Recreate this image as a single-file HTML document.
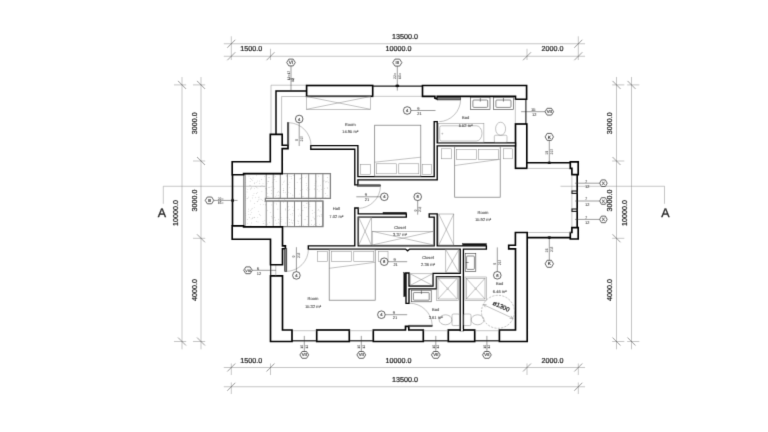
<!DOCTYPE html>
<html><head><meta charset="utf-8"><title>Floor plan</title>
<style>
html,body{margin:0;padding:0;background:#fff;}
body{width:768px;height:432px;overflow:hidden;font-family:"Liberation Sans",sans-serif;}
svg{display:block;}
text{font-family:"Liberation Sans",sans-serif;text-rendering:geometricPrecision;}
.w{fill:#fff;stroke:#000;stroke-width:1.65;stroke-linejoin:miter;}
.wl{fill:none;stroke:#000;stroke-width:1.45;stroke-linejoin:miter;}
.wi{fill:#fff;stroke:#000;stroke-width:1.35;stroke-linejoin:miter;}
.m{fill:none;stroke:#1c1c1c;stroke-width:1.1;}
.t{fill:none;stroke:#8a8a8a;stroke-width:0.5;}
.d{fill:none;stroke:#8c8c8c;stroke-width:0.5;}
.d2{fill:none;stroke:#3a3a3a;stroke-width:0.5;}
.sl{fill:none;stroke:#4a4a4a;stroke-width:0.55;}
.f{fill:none;stroke:#858585;stroke-width:0.5;}
.fb{fill:none;stroke:#737373;stroke-width:0.7;}
.ww{fill:none;stroke:#1a1a1a;stroke-width:1.25;}
.f2{fill:none;stroke:#3a3a3a;stroke-width:0.6;}
.st{fill:none;stroke:#8a8a8a;stroke-width:1.0;}
.st2{fill:none;stroke:#808080;stroke-width:1.3;}
.tg{fill:#fff;stroke:#222;stroke-width:0.7;}
.dot{fill:#111;stroke:none;}
.blk{fill:#111;stroke:#111;stroke-width:0.4;}
.bar{fill:#666;stroke:#111;stroke-width:1.2;}
.dl{fill:#666;stroke:#222;stroke-width:0.6;}
.fd{fill:#fff;stroke:#777;stroke-width:0.4;}
.dh{fill:#7a7a7a;stroke:#1a1a1a;stroke-width:0.6;}
.tx{fill:#222;stroke:#222;stroke-width:2.2;}
.txa{fill:#222;stroke:#222;stroke-width:3;}
.tt{fill:#222;stroke:#222;stroke-width:1.2;}
.tt2{fill:#333;stroke:#333;stroke-width:0.6;}
.rl{fill:#444;stroke:#444;stroke-width:0.9;}
</style></head>
<body>
<svg width="768" height="432" viewBox="0 0 768 432">
<defs><filter id="b" x="0" y="0" width="768" height="432" filterUnits="userSpaceOnUse" color-interpolation-filters="sRGB"><feConvolveMatrix order="3" kernelMatrix="0 1 0 1 6 1 0 1 0" divisor="10" edgeMode="duplicate" preserveAlpha="false"/></filter></defs>
<rect x="0" y="0" width="768" height="432" fill="#fff"/>
<g filter="url(#b)">
<path class="d" d="M223.80,43.75 L585.00,43.75"/>
<path class="d" d="M223.80,56.25 L585.00,56.25"/>
<path class="d" d="M231.30,36.30 L231.30,60.00"/>
<path class="d" d="M578.30,36.30 L578.30,60.00"/>
<path class="d" d="M270.50,48.80 L270.50,60.00"/>
<path class="d" d="M527.00,48.80 L527.00,60.00"/>
<path class="sl" d="M227.30,47.75 L235.30,39.75"/>
<path class="sl" d="M227.30,60.25 L235.30,52.25"/>
<path class="sl" d="M574.30,47.75 L582.30,39.75"/>
<path class="sl" d="M574.30,60.25 L582.30,52.25"/>
<path class="sl" d="M266.50,60.25 L274.50,52.25"/>
<path class="sl" d="M523.00,60.25 L531.00,52.25"/>
<text class="tx" transform="translate(405.00 36.60) scale(0.1)" font-size="72" text-anchor="middle" dominant-baseline="central">13500.0</text>
<text class="tx" transform="translate(398.60 48.90) scale(0.1)" font-size="72" text-anchor="middle" dominant-baseline="central">10000.0</text>
<text class="tx" transform="translate(251.30 48.90) scale(0.1)" font-size="72" text-anchor="middle" dominant-baseline="central">1500.0</text>
<text class="tx" transform="translate(552.50 48.90) scale(0.1)" font-size="72" text-anchor="middle" dominant-baseline="central">2000.0</text>
<path class="d" d="M223.80,367.50 L585.00,367.50"/>
<path class="d" d="M223.80,386.75 L585.00,386.75"/>
<path class="d" d="M231.30,363.50 L231.30,375.00"/>
<path class="d" d="M231.30,382.50 L231.30,394.00"/>
<path class="d" d="M578.30,363.50 L578.30,375.00"/>
<path class="d" d="M578.30,382.50 L578.30,394.00"/>
<path class="d" d="M270.50,363.50 L270.50,375.00"/>
<path class="d" d="M527.00,363.50 L527.00,375.00"/>
<path class="sl" d="M227.30,371.50 L235.30,363.50"/>
<path class="sl" d="M227.30,390.75 L235.30,382.75"/>
<path class="sl" d="M574.30,371.50 L582.30,363.50"/>
<path class="sl" d="M574.30,390.75 L582.30,382.75"/>
<path class="sl" d="M266.50,371.50 L274.50,363.50"/>
<path class="sl" d="M523.00,371.50 L531.00,363.50"/>
<text class="tx" transform="translate(405.00 379.80) scale(0.1)" font-size="72" text-anchor="middle" dominant-baseline="central">13500.0</text>
<text class="tx" transform="translate(398.60 360.20) scale(0.1)" font-size="72" text-anchor="middle" dominant-baseline="central">10000.0</text>
<text class="tx" transform="translate(251.30 360.20) scale(0.1)" font-size="72" text-anchor="middle" dominant-baseline="central">1500.0</text>
<text class="tx" transform="translate(552.50 360.20) scale(0.1)" font-size="72" text-anchor="middle" dominant-baseline="central">2000.0</text>
<path class="d" d="M182.00,77.00 L182.00,349.30"/>
<path class="d" d="M201.00,77.00 L201.00,349.30"/>
<path class="d" d="M174.00,84.90 L186.20,84.90"/>
<path class="sl" d="M178.00,80.90 L186.00,88.90"/>
<path class="d" d="M193.00,84.90 L205.20,84.90"/>
<path class="sl" d="M197.00,80.90 L205.00,88.90"/>
<path class="d" d="M174.00,341.50 L186.20,341.50"/>
<path class="sl" d="M178.00,337.50 L186.00,345.50"/>
<path class="d" d="M193.00,341.50 L205.20,341.50"/>
<path class="sl" d="M197.00,337.50 L205.00,345.50"/>
<path class="d" d="M193.00,161.00 L205.20,161.00"/>
<path class="sl" d="M197.00,157.00 L205.00,165.00"/>
<path class="d" d="M193.00,238.30 L205.20,238.30"/>
<path class="sl" d="M197.00,234.30 L205.00,242.30"/>
<text class="tx" transform="translate(194.50 123.30) rotate(-90) scale(0.1)" font-size="72" text-anchor="middle" dominant-baseline="central">3000.0</text>
<text class="tx" transform="translate(194.50 200.50) rotate(-90) scale(0.1)" font-size="72" text-anchor="middle" dominant-baseline="central">3000.0</text>
<text class="tx" transform="translate(194.50 290.00) rotate(-90) scale(0.1)" font-size="72" text-anchor="middle" dominant-baseline="central">4000.0</text>
<text class="tx" transform="translate(175.80 213.00) rotate(-90) scale(0.1)" font-size="72" text-anchor="middle" dominant-baseline="central">10000.0</text>
<path class="d" d="M616.50,77.00 L616.50,349.30"/>
<path class="d" d="M631.50,77.00 L631.50,349.30"/>
<path class="d" d="M612.20,84.90 L624.30,84.90"/>
<path class="sl" d="M612.50,80.90 L620.50,88.90"/>
<path class="d" d="M627.20,84.90 L639.30,84.90"/>
<path class="sl" d="M627.50,80.90 L635.50,88.90"/>
<path class="d" d="M612.20,341.50 L624.30,341.50"/>
<path class="sl" d="M612.50,337.50 L620.50,345.50"/>
<path class="d" d="M627.20,341.50 L639.30,341.50"/>
<path class="sl" d="M627.50,337.50 L635.50,345.50"/>
<path class="d" d="M612.20,161.00 L624.30,161.00"/>
<path class="sl" d="M612.50,157.00 L620.50,165.00"/>
<path class="d" d="M612.20,238.30 L624.30,238.30"/>
<path class="sl" d="M612.50,234.30 L620.50,242.30"/>
<text class="tx" transform="translate(609.60 123.30) rotate(-90) scale(0.1)" font-size="72" text-anchor="middle" dominant-baseline="central">3000.0</text>
<text class="tx" transform="translate(609.60 200.50) rotate(-90) scale(0.1)" font-size="72" text-anchor="middle" dominant-baseline="central">3000.0</text>
<text class="tx" transform="translate(609.60 290.00) rotate(-90) scale(0.1)" font-size="72" text-anchor="middle" dominant-baseline="central">4000.0</text>
<text class="tx" transform="translate(624.30 213.00) rotate(-90) scale(0.1)" font-size="72" text-anchor="middle" dominant-baseline="central">10000.0</text>
<path class="d" d="M163.30,203.75 L163.30,186.25 L265.40,186.25"/>
<path class="d" d="M664.50,203.75 L664.50,186.25 L560.50,186.25"/>
<text class="txa" transform="translate(162.00 212.60) scale(0.1)" font-size="125" text-anchor="middle" dominant-baseline="central">A</text>
<text class="txa" transform="translate(665.50 212.60) scale(0.1)" font-size="125" text-anchor="middle" dominant-baseline="central">A</text>
<g fill="#8a8a8a"><circle cx="272.7" cy="182.7" r="0.32"/><circle cx="300.2" cy="178.7" r="0.32"/><circle cx="290.5" cy="193.7" r="0.32"/><circle cx="250.4" cy="200.9" r="0.32"/><circle cx="248.6" cy="197.1" r="0.32"/><circle cx="251.4" cy="179.6" r="0.32"/><circle cx="281.2" cy="217.2" r="0.32"/><circle cx="255.9" cy="186.4" r="0.32"/><circle cx="298.2" cy="223.3" r="0.32"/><circle cx="294.0" cy="195.2" r="0.32"/><circle cx="327.5" cy="177.4" r="0.32"/><circle cx="317.6" cy="189.8" r="0.32"/><circle cx="257.6" cy="181.0" r="0.32"/><circle cx="271.4" cy="216.6" r="0.32"/><circle cx="260.7" cy="204.7" r="0.32"/><circle cx="299.2" cy="194.0" r="0.32"/><circle cx="291.5" cy="178.2" r="0.32"/><circle cx="250.5" cy="185.5" r="0.32"/><circle cx="302.7" cy="196.8" r="0.32"/><circle cx="271.9" cy="204.9" r="0.32"/><circle cx="283.6" cy="190.3" r="0.32"/><circle cx="312.2" cy="210.6" r="0.32"/><circle cx="266.0" cy="204.3" r="0.32"/><circle cx="289.6" cy="219.6" r="0.32"/><circle cx="306.8" cy="189.7" r="0.32"/><circle cx="327.8" cy="181.0" r="0.32"/><circle cx="280.6" cy="213.6" r="0.32"/><circle cx="258.3" cy="199.9" r="0.32"/><circle cx="248.8" cy="209.1" r="0.32"/><circle cx="309.7" cy="204.2" r="0.32"/><circle cx="319.0" cy="191.0" r="0.32"/><circle cx="303.9" cy="205.3" r="0.32"/><circle cx="294.2" cy="198.3" r="0.32"/><circle cx="316.1" cy="223.2" r="0.32"/><circle cx="285.3" cy="208.9" r="0.32"/><circle cx="250.6" cy="210.8" r="0.32"/><circle cx="299.9" cy="225.6" r="0.32"/><circle cx="314.5" cy="189.5" r="0.32"/><circle cx="277.9" cy="209.1" r="0.32"/><circle cx="247.4" cy="198.5" r="0.32"/><circle cx="259.6" cy="181.0" r="0.32"/><circle cx="250.5" cy="214.2" r="0.32"/><circle cx="256.4" cy="187.6" r="0.32"/><circle cx="278.3" cy="219.4" r="0.32"/><circle cx="252.3" cy="197.9" r="0.32"/><circle cx="291.7" cy="220.1" r="0.32"/><circle cx="314.3" cy="219.1" r="0.32"/><circle cx="268.9" cy="196.2" r="0.32"/><circle cx="275.6" cy="220.1" r="0.32"/><circle cx="325.9" cy="182.7" r="0.32"/><circle cx="260.3" cy="186.8" r="0.32"/><circle cx="265.1" cy="199.7" r="0.32"/><circle cx="295.0" cy="188.4" r="0.32"/><circle cx="245.8" cy="196.4" r="0.32"/><circle cx="276.5" cy="203.9" r="0.32"/><circle cx="288.8" cy="206.5" r="0.32"/><circle cx="302.3" cy="177.8" r="0.32"/><circle cx="321.1" cy="214.8" r="0.32"/><circle cx="319.0" cy="215.7" r="0.32"/><circle cx="278.5" cy="195.3" r="0.32"/><circle cx="254.2" cy="207.3" r="0.32"/><circle cx="250.7" cy="178.4" r="0.32"/><circle cx="263.0" cy="183.3" r="0.32"/><circle cx="274.1" cy="177.7" r="0.32"/><circle cx="245.5" cy="182.7" r="0.32"/><circle cx="254.0" cy="193.5" r="0.32"/><circle cx="247.6" cy="219.6" r="0.32"/><circle cx="297.1" cy="182.6" r="0.32"/><circle cx="266.7" cy="192.7" r="0.32"/><circle cx="276.1" cy="181.3" r="0.32"/><circle cx="316.8" cy="225.6" r="0.32"/><circle cx="284.6" cy="199.7" r="0.32"/><circle cx="252.7" cy="180.2" r="0.32"/><circle cx="274.3" cy="188.5" r="0.32"/><circle cx="315.1" cy="183.2" r="0.32"/><circle cx="247.4" cy="223.5" r="0.32"/><circle cx="289.9" cy="182.5" r="0.32"/><circle cx="291.1" cy="176.4" r="0.32"/><circle cx="289.9" cy="224.9" r="0.32"/><circle cx="318.0" cy="210.5" r="0.32"/><circle cx="267.4" cy="193.7" r="0.32"/><circle cx="259.5" cy="214.4" r="0.32"/><circle cx="290.2" cy="214.7" r="0.32"/><circle cx="273.2" cy="186.4" r="0.32"/><circle cx="313.7" cy="225.2" r="0.32"/><circle cx="317.1" cy="216.1" r="0.32"/><circle cx="314.2" cy="212.7" r="0.32"/><circle cx="264.5" cy="201.4" r="0.32"/><circle cx="275.4" cy="176.5" r="0.32"/><circle cx="247.8" cy="189.3" r="0.32"/><circle cx="267.3" cy="210.3" r="0.32"/><circle cx="325.8" cy="197.8" r="0.32"/><circle cx="325.7" cy="193.6" r="0.32"/><circle cx="264.0" cy="186.6" r="0.32"/><circle cx="262.0" cy="185.4" r="0.32"/><circle cx="297.9" cy="220.9" r="0.32"/><circle cx="316.1" cy="199.5" r="0.32"/><circle cx="300.4" cy="215.8" r="0.32"/><circle cx="252.6" cy="208.7" r="0.32"/><circle cx="321.9" cy="214.9" r="0.32"/><circle cx="308.5" cy="199.4" r="0.32"/><circle cx="260.5" cy="215.2" r="0.32"/><circle cx="273.4" cy="215.8" r="0.32"/><circle cx="327.1" cy="195.2" r="0.32"/><circle cx="279.2" cy="223.3" r="0.32"/><circle cx="306.4" cy="183.7" r="0.32"/><circle cx="256.2" cy="182.7" r="0.32"/><circle cx="321.5" cy="216.1" r="0.32"/><circle cx="257.8" cy="217.2" r="0.32"/><circle cx="274.9" cy="203.0" r="0.32"/><circle cx="256.5" cy="175.7" r="0.32"/><circle cx="289.7" cy="222.6" r="0.32"/><circle cx="281.9" cy="219.5" r="0.32"/><circle cx="314.9" cy="185.8" r="0.32"/><circle cx="266.7" cy="189.9" r="0.32"/><circle cx="265.7" cy="204.9" r="0.32"/><circle cx="267.3" cy="196.4" r="0.32"/><circle cx="256.5" cy="221.4" r="0.32"/><circle cx="275.2" cy="198.4" r="0.32"/><circle cx="294.5" cy="221.1" r="0.32"/><circle cx="280.8" cy="221.8" r="0.32"/><circle cx="287.6" cy="202.1" r="0.32"/><circle cx="289.5" cy="176.0" r="0.32"/><circle cx="282.5" cy="184.3" r="0.32"/><circle cx="245.8" cy="215.8" r="0.32"/><circle cx="260.0" cy="199.1" r="0.32"/><circle cx="306.4" cy="203.4" r="0.32"/><circle cx="272.9" cy="201.4" r="0.32"/><circle cx="292.2" cy="215.0" r="0.32"/><circle cx="254.4" cy="203.6" r="0.32"/><circle cx="266.4" cy="189.1" r="0.32"/><circle cx="310.4" cy="200.9" r="0.32"/><circle cx="292.7" cy="213.8" r="0.32"/><circle cx="322.1" cy="197.6" r="0.32"/><circle cx="297.0" cy="200.8" r="0.32"/><circle cx="288.5" cy="210.3" r="0.32"/><circle cx="283.5" cy="202.2" r="0.32"/><circle cx="285.7" cy="223.0" r="0.32"/><circle cx="304.2" cy="219.7" r="0.32"/><circle cx="324.6" cy="188.2" r="0.32"/><circle cx="292.5" cy="223.1" r="0.32"/><circle cx="316.1" cy="182.0" r="0.32"/><circle cx="255.7" cy="197.5" r="0.32"/><circle cx="251.6" cy="187.3" r="0.32"/><circle cx="251.6" cy="209.1" r="0.32"/><circle cx="311.4" cy="220.7" r="0.32"/><circle cx="258.5" cy="211.5" r="0.32"/><circle cx="301.0" cy="182.3" r="0.32"/><circle cx="319.7" cy="224.3" r="0.32"/><circle cx="263.9" cy="223.6" r="0.32"/><circle cx="279.0" cy="199.9" r="0.32"/><circle cx="259.1" cy="197.0" r="0.32"/><circle cx="288.8" cy="192.3" r="0.32"/><circle cx="261.9" cy="191.2" r="0.32"/><circle cx="306.2" cy="176.0" r="0.32"/><circle cx="292.0" cy="197.5" r="0.32"/><circle cx="247.0" cy="191.9" r="0.32"/><circle cx="297.9" cy="201.1" r="0.32"/><circle cx="250.9" cy="225.2" r="0.32"/><circle cx="311.7" cy="224.6" r="0.32"/><circle cx="254.3" cy="188.5" r="0.32"/><circle cx="248.8" cy="214.7" r="0.32"/><circle cx="268.2" cy="181.6" r="0.32"/><circle cx="281.0" cy="221.5" r="0.32"/><circle cx="314.3" cy="188.2" r="0.32"/><circle cx="258.0" cy="221.9" r="0.32"/><circle cx="293.4" cy="210.7" r="0.32"/><circle cx="253.0" cy="177.9" r="0.32"/><circle cx="303.3" cy="196.7" r="0.32"/><circle cx="251.6" cy="222.9" r="0.32"/><circle cx="298.8" cy="215.9" r="0.32"/><circle cx="252.5" cy="218.7" r="0.32"/><circle cx="251.1" cy="219.0" r="0.32"/><circle cx="283.6" cy="192.3" r="0.32"/><circle cx="292.0" cy="222.3" r="0.32"/><circle cx="268.0" cy="181.6" r="0.32"/><circle cx="289.8" cy="187.2" r="0.32"/><circle cx="254.7" cy="183.2" r="0.32"/><circle cx="249.7" cy="185.3" r="0.32"/><circle cx="271.7" cy="190.6" r="0.32"/><circle cx="309.3" cy="189.8" r="0.32"/><circle cx="287.5" cy="184.1" r="0.32"/><circle cx="274.6" cy="175.9" r="0.32"/><circle cx="266.5" cy="175.8" r="0.32"/><circle cx="307.1" cy="203.1" r="0.32"/><circle cx="261.4" cy="199.2" r="0.32"/><circle cx="324.0" cy="180.4" r="0.32"/><circle cx="314.3" cy="197.0" r="0.32"/><circle cx="287.1" cy="217.6" r="0.32"/><circle cx="278.5" cy="200.8" r="0.32"/><circle cx="303.3" cy="225.1" r="0.32"/><circle cx="274.3" cy="217.4" r="0.32"/><circle cx="304.9" cy="207.4" r="0.32"/><circle cx="279.5" cy="192.7" r="0.32"/><circle cx="250.1" cy="181.6" r="0.32"/><circle cx="251.4" cy="212.8" r="0.32"/><circle cx="267.0" cy="183.3" r="0.32"/><circle cx="252.6" cy="217.9" r="0.32"/><circle cx="318.6" cy="209.2" r="0.32"/><circle cx="269.2" cy="187.4" r="0.32"/><circle cx="270.1" cy="198.4" r="0.32"/><circle cx="258.7" cy="197.7" r="0.32"/><circle cx="267.6" cy="224.1" r="0.32"/><circle cx="266.0" cy="224.2" r="0.32"/><circle cx="271.5" cy="193.2" r="0.32"/><circle cx="245.6" cy="194.5" r="0.32"/><circle cx="285.4" cy="200.6" r="0.32"/><circle cx="262.4" cy="200.7" r="0.32"/><circle cx="245.9" cy="188.5" r="0.32"/><circle cx="253.0" cy="195.4" r="0.32"/><circle cx="249.0" cy="176.1" r="0.32"/><circle cx="271.1" cy="186.9" r="0.32"/><circle cx="294.7" cy="202.0" r="0.32"/><circle cx="308.5" cy="208.5" r="0.32"/><circle cx="305.6" cy="219.8" r="0.32"/><circle cx="278.2" cy="191.6" r="0.32"/><circle cx="328.2" cy="182.6" r="0.32"/><circle cx="306.3" cy="207.8" r="0.32"/><circle cx="249.2" cy="217.6" r="0.32"/><circle cx="320.4" cy="207.0" r="0.32"/><circle cx="307.1" cy="216.4" r="0.32"/><circle cx="257.2" cy="201.7" r="0.32"/><circle cx="287.9" cy="217.6" r="0.32"/><circle cx="313.1" cy="217.1" r="0.32"/><circle cx="294.6" cy="220.5" r="0.32"/><circle cx="302.9" cy="210.4" r="0.32"/><circle cx="264.8" cy="176.6" r="0.32"/><circle cx="256.7" cy="193.4" r="0.32"/><circle cx="254.3" cy="217.6" r="0.32"/><circle cx="292.4" cy="207.0" r="0.32"/><circle cx="298.1" cy="209.7" r="0.32"/><circle cx="286.6" cy="175.2" r="0.32"/><circle cx="312.5" cy="213.2" r="0.32"/><circle cx="287.7" cy="202.3" r="0.32"/><circle cx="300.9" cy="178.4" r="0.32"/><circle cx="307.4" cy="187.9" r="0.32"/><circle cx="251.8" cy="188.5" r="0.32"/><circle cx="306.8" cy="185.5" r="0.32"/><circle cx="307.6" cy="224.8" r="0.32"/><circle cx="287.0" cy="194.5" r="0.32"/><circle cx="285.7" cy="209.9" r="0.32"/><circle cx="309.9" cy="206.5" r="0.32"/><circle cx="299.5" cy="179.0" r="0.32"/><circle cx="257.9" cy="188.0" r="0.32"/><circle cx="307.9" cy="190.5" r="0.32"/><circle cx="293.2" cy="175.6" r="0.32"/><circle cx="250.6" cy="188.7" r="0.32"/><circle cx="301.9" cy="210.3" r="0.32"/><circle cx="302.3" cy="189.8" r="0.32"/><circle cx="288.9" cy="198.7" r="0.32"/><circle cx="284.7" cy="181.0" r="0.32"/><circle cx="320.6" cy="185.2" r="0.32"/><circle cx="247.0" cy="198.4" r="0.32"/><circle cx="314.4" cy="224.4" r="0.32"/><circle cx="283.3" cy="188.7" r="0.32"/><circle cx="263.1" cy="223.2" r="0.32"/><circle cx="263.2" cy="204.7" r="0.32"/><circle cx="257.4" cy="201.7" r="0.32"/><circle cx="325.5" cy="181.8" r="0.32"/><circle cx="314.4" cy="200.9" r="0.32"/><circle cx="320.0" cy="210.9" r="0.32"/><circle cx="264.9" cy="220.8" r="0.32"/><circle cx="286.3" cy="176.3" r="0.32"/><circle cx="245.8" cy="200.1" r="0.32"/><circle cx="283.4" cy="190.4" r="0.32"/><circle cx="257.3" cy="192.5" r="0.32"/><circle cx="272.1" cy="217.9" r="0.32"/><circle cx="245.6" cy="213.3" r="0.32"/><circle cx="316.0" cy="181.1" r="0.32"/><circle cx="321.2" cy="189.8" r="0.32"/><circle cx="276.8" cy="195.0" r="0.32"/><circle cx="275.8" cy="196.8" r="0.32"/><circle cx="268.6" cy="177.5" r="0.32"/><circle cx="254.0" cy="217.6" r="0.32"/><circle cx="269.5" cy="222.7" r="0.32"/><circle cx="266.4" cy="188.6" r="0.32"/><circle cx="288.4" cy="184.7" r="0.32"/><circle cx="276.9" cy="223.8" r="0.32"/><circle cx="319.8" cy="216.4" r="0.32"/><circle cx="298.5" cy="221.6" r="0.32"/><circle cx="305.9" cy="177.5" r="0.32"/><circle cx="307.0" cy="198.0" r="0.32"/><circle cx="308.7" cy="207.9" r="0.32"/><circle cx="269.5" cy="177.5" r="0.32"/><circle cx="323.3" cy="181.5" r="0.32"/><circle cx="285.2" cy="192.5" r="0.32"/><circle cx="270.5" cy="212.7" r="0.32"/><circle cx="327.5" cy="188.3" r="0.32"/><circle cx="300.6" cy="190.3" r="0.32"/><circle cx="292.3" cy="195.1" r="0.32"/><circle cx="259.6" cy="183.2" r="0.32"/><circle cx="263.0" cy="221.2" r="0.32"/><circle cx="287.3" cy="186.2" r="0.32"/><circle cx="321.6" cy="225.8" r="0.32"/><circle cx="283.3" cy="182.1" r="0.32"/><circle cx="261.7" cy="179.6" r="0.32"/><circle cx="274.2" cy="179.6" r="0.32"/><circle cx="265.6" cy="188.2" r="0.32"/><circle cx="293.3" cy="220.2" r="0.32"/><circle cx="308.5" cy="196.1" r="0.32"/><circle cx="280.3" cy="201.7" r="0.32"/><circle cx="277.2" cy="192.2" r="0.32"/><circle cx="250.7" cy="189.2" r="0.32"/><circle cx="326.8" cy="181.4" r="0.32"/><circle cx="287.8" cy="207.1" r="0.32"/><circle cx="318.0" cy="186.0" r="0.32"/><circle cx="268.3" cy="187.7" r="0.32"/><circle cx="279.1" cy="197.7" r="0.32"/><circle cx="318.8" cy="176.1" r="0.32"/><circle cx="248.2" cy="211.2" r="0.32"/><circle cx="320.7" cy="199.1" r="0.32"/><circle cx="294.8" cy="175.0" r="0.32"/><circle cx="278.4" cy="222.3" r="0.32"/><circle cx="314.8" cy="218.6" r="0.32"/><circle cx="327.2" cy="187.7" r="0.32"/><circle cx="254.7" cy="182.9" r="0.32"/><circle cx="289.4" cy="209.8" r="0.32"/><circle cx="299.9" cy="214.0" r="0.32"/></g>
<path class="st" d="M266.20,174.00 L266.20,198.30"/>
<path class="st" d="M266.20,201.00 L266.20,226.60"/>
<path class="st" d="M273.20,174.00 L273.20,198.30"/>
<path class="st" d="M273.20,201.00 L273.20,226.60"/>
<path class="st" d="M280.30,174.00 L280.30,198.30"/>
<path class="st" d="M280.30,201.00 L280.30,226.60"/>
<path class="st" d="M287.40,174.00 L287.40,198.30"/>
<path class="st" d="M287.40,201.00 L287.40,226.60"/>
<path class="st" d="M294.50,174.00 L294.50,198.30"/>
<path class="st" d="M294.50,201.00 L294.50,226.60"/>
<path class="st" d="M301.60,174.00 L301.60,198.30"/>
<path class="st" d="M301.60,201.00 L301.60,226.60"/>
<path class="st" d="M308.70,174.00 L308.70,198.30"/>
<path class="st" d="M308.70,201.00 L308.70,226.60"/>
<path class="st" d="M315.80,174.00 L315.80,198.30"/>
<path class="st" d="M315.80,201.00 L315.80,226.60"/>
<path class="st" d="M322.90,174.00 L322.90,198.30"/>
<path class="st" d="M322.90,201.00 L322.90,226.60"/>
<path class="st2" d="M243.80,173.60 L330.40,173.60 L330.40,198.30 L265.40,198.30 L265.40,201.00 L322.90,201.00 L322.90,226.60 L243.80,226.60 Z"/>
<path class="st" d="M245.20,174.00 L245.20,226.40"/>
<path class="t" d="M306.50,85.20 L271.00,85.20 L271.00,134.30"/>
<path class="t" d="M306.50,96.50 L281.60,96.50 L281.60,134.30"/>
<path class="wl" d="M306.50,90.90 L276.00,90.90 L276.00,134.30"/>
<rect class="w" x="306.60" y="85.50" width="66.10" height="10.80"/>
<path class="m" d="M372.70,86.10 L422.50,86.10"/>
<path class="t" d="M372.70,96.30 L422.50,96.30"/>
<path class="w" d="M422.50,85.50 L526.60,85.50 L526.60,99.20 L515.50,99.20 L515.50,96.30 L437.20,96.30 L437.20,99.00 L434.90,98.20 L434.90,96.30 L422.50,96.30 Z"/>
<path class="t" d="M515.30,99.20 L515.30,124.00"/>
<path class="m" d="M525.90,99.20 L525.90,124.00"/>
<rect class="w" x="515.50" y="124.00" width="11.30" height="44.30"/>
<path class="w" d="M526.80,162.70 L570.30,162.70"/>
<path class="t" d="M526.80,168.40 L570.30,168.40"/>
<path class="w" d="M570.30,161.90 L578.20,161.90 L578.20,174.60 L571.90,174.60 L571.90,168.30 L570.30,168.30 Z"/>
<path class="w" d="M577.20,174.60 L577.20,227.60"/>
<path class="t" d="M571.90,174.60 L571.90,227.60"/>
<rect class="m" x="572.00" y="191.00" width="5.40" height="2.40"/>
<rect class="m" x="572.00" y="209.00" width="5.40" height="2.40"/>
<path class="w" d="M570.30,239.00 L578.20,239.00 L578.20,227.60 L571.90,227.60 L571.90,232.50 L570.30,232.50 Z"/>
<path class="t" d="M527.20,232.50 L571.00,232.50"/>
<path class="w" d="M527.20,237.60 L571.00,237.60"/>
<path class="w" d="M515.40,232.50 L527.20,232.50 L527.20,341.50 L499.40,341.50 L499.40,330.00 L515.50,330.00 L515.50,248.90 L508.70,248.90 L508.70,245.20 L515.40,245.20 Z"/>
<rect class="w" x="316.70" y="330.00" width="32.60" height="11.50"/>
<path class="w" d="M373.30,330.00 L405.50,330.00 L405.50,326.30 L408.80,326.30 L408.80,330.00 L423.30,330.00 L423.30,341.50 L373.30,341.50 Z"/>
<rect class="w" x="448.30" y="330.00" width="26.40" height="11.50"/>
<path class="t" d="M292.00,330.70 L316.70,330.70"/>
<path class="ww" d="M292.00,340.80 L316.70,340.80"/>
<path class="t" d="M349.30,330.70 L373.30,330.70"/>
<path class="ww" d="M349.30,340.80 L373.30,340.80"/>
<path class="t" d="M423.30,330.70 L448.30,330.70"/>
<path class="ww" d="M423.30,340.80 L448.30,340.80"/>
<path class="t" d="M474.70,330.70 L499.40,330.70"/>
<path class="ww" d="M474.70,340.80 L499.40,340.80"/>
<path class="w" d="M270.50,275.80 L282.50,275.80 L282.50,330.00 L292.00,330.00 L292.00,341.50 L270.50,341.50 Z"/>
<path class="m" d="M270.70,264.70 L270.70,275.80"/>
<path class="t" d="M275.80,264.70 L275.80,275.80"/>
<path class="w" d="M232.20,225.80 L243.60,225.80 L243.60,226.80 L282.50,226.80 L282.50,245.80 L285.40,245.80 L285.40,248.70 L282.50,248.70 L282.50,264.70 L270.50,264.70 L270.50,239.20 L232.20,239.20 Z"/>
<path class="w" d="M270.30,134.30 L282.20,134.30 L282.20,145.20 L288.00,145.20 L288.00,148.60 L282.20,148.60 L282.20,173.60 L243.60,173.60 L243.60,174.70 L232.20,174.70 L232.20,161.70 L270.30,161.70 Z"/>
<path class="w" d="M232.50,174.70 L232.50,225.80"/>
<path class="wi" d="M310.80,145.60 L357.90,145.60 L357.90,176.60 L434.20,176.60 L434.20,121.60 L437.20,121.60 L437.20,142.80 L515.50,142.80 L515.50,145.90 L437.20,145.90 L437.20,179.80 L357.90,179.80 L357.90,184.80 L354.80,184.80 L354.80,149.20 L310.80,149.20 Z"/>
<path class="wi" d="M308.30,245.85 L354.80,245.85 L354.80,208.00 L358.20,208.00 L358.20,213.90 L406.30,213.90 L406.30,217.10 L358.20,217.10 L358.20,245.85 L434.20,245.85 L434.20,217.10 L429.20,217.10 L429.20,213.90 L437.20,213.90 L437.20,245.85 L486.40,245.85 L486.40,249.10 L463.40,249.10 L463.40,330.60 L460.20,330.60 L460.20,276.60 L436.40,276.60 L436.40,288.80 L409.00,288.80 L409.00,303.40 L406.00,303.40 L406.00,273.00 L409.00,273.00 L409.00,286.00 L433.00,286.00 L433.00,273.30 L460.20,273.30 L460.20,249.10 L409.70,249.10 L407.60,250.80 L405.50,249.10 L308.30,249.10 Z"/>
<rect x="460.95" y="329" width="1.75" height="2" fill="#fff"/>
<rect class="blk" x="383.00" y="212.30" width="23.30" height="1.60"/>
<rect class="blk" x="462.60" y="243.60" width="23.80" height="2.00"/>
<rect class="blk" x="403.80" y="272.80" width="2.00" height="23.70"/>
<rect class="dl" x="287.40" y="122.70" width="1.40" height="22.50"/>
<path class="f" d="M288.80,122.70 A22.8,22.8 0 0 1 311.00,145.60"/>
<rect class="dh" x="437.20" y="97.60" width="23.40" height="2.30"/>
<path class="f" d="M460.60,99.90 A22.5,22.5 0 0 1 439.20,121.70"/>
<rect class="dl" x="357.20" y="184.80" width="23.30" height="1.40"/>
<path class="f" d="M380.50,186.20 A22.8,22.8 0 0 1 358.20,208.40"/>
<rect class="dh" x="284.70" y="248.70" width="2.10" height="22.70"/>
<path class="f" d="M286.80,271.40 A22.4,22.4 0 0 0 308.40,249.30"/>
<rect class="dl" x="408.80" y="325.20" width="23.40" height="1.40"/>
<path class="f" d="M432.20,325.20 A22.8,22.8 0 0 0 409.50,303.20"/>
<rect class="f" x="306.50" y="96.50" width="64.00" height="12.80"/>
<path class="f" d="M306.50,96.50 L370.50,109.30 M370.50,96.50 L306.50,109.30"/>
<rect class="fb" x="374.70" y="125.20" width="46.10" height="51.00"/>
<rect class="f" x="376.30" y="163.80" width="20.00" height="10.00"/>
<rect class="f" x="398.80" y="163.80" width="20.00" height="10.00"/>
<path class="f" d="M374.70,162.20 L420.80,157.20"/>
<rect class="f" x="360.50" y="164.70" width="10.00" height="10.00"/>
<rect class="f" x="422.20" y="164.70" width="9.10" height="10.00"/>
<rect class="fb" x="454.70" y="146.30" width="45.50" height="50.90"/>
<rect class="f" x="456.30" y="149.70" width="20.00" height="9.60"/>
<rect class="f" x="478.50" y="149.70" width="20.00" height="9.60"/>
<path class="f" d="M454.70,165.50 L500.20,159.30"/>
<rect class="f" x="441.30" y="148.80" width="10.00" height="10.00"/>
<rect class="f" x="503.50" y="148.80" width="8.80" height="10.00"/>
<rect class="fb" x="329.20" y="249.70" width="46.00" height="50.50"/>
<rect class="f" x="331.30" y="251.50" width="20.00" height="10.00"/>
<rect class="f" x="353.80" y="251.50" width="20.00" height="10.00"/>
<path class="f" d="M329.20,268.30 L375.20,262.30"/>
<rect class="f" x="317.50" y="251.30" width="10.00" height="10.00"/>
<rect class="f" x="378.30" y="251.30" width="9.70" height="10.00"/>
<rect class="f" x="358.80" y="217.50" width="12.50" height="27.50"/>
<path class="f" d="M358.80,217.50 L371.30,245.00 M371.30,217.50 L358.80,245.00"/>
<rect class="f" x="372.20" y="231.30" width="61.60" height="13.70"/>
<path class="f" d="M372.20,231.30 L433.80,245.00 M433.80,231.30 L372.20,245.00"/>
<rect class="f" x="438.80" y="214.00" width="15.00" height="31.00"/>
<path class="f" d="M438.80,214.00 L453.80,245.00 M453.80,214.00 L438.80,245.00"/>
<rect class="f" x="445.80" y="249.70" width="13.00" height="22.60"/>
<path class="f" d="M445.80,249.70 L458.80,272.30 M458.80,249.70 L445.80,272.30"/>
<rect class="f" x="410.20" y="273.80" width="22.20" height="11.60"/>
<path class="f" d="M410.20,273.80 L432.40,285.40 M432.40,273.80 L410.20,285.40"/>
<rect class="f" x="436.70" y="277.00" width="21.80" height="23.30"/>
<rect class="f" x="438.00" y="278.30" width="19.20" height="20.70"/>
<path class="f" d="M438.00,278.30 L457.20,299.00 M457.20,278.30 L438.00,299.00"/>
<circle class="fd" cx="447.60" cy="288.65" r="0.7"/>
<rect class="f" x="465.00" y="277.00" width="21.30" height="23.30"/>
<rect class="f" x="466.30" y="278.30" width="18.70" height="20.70"/>
<path class="f" d="M466.30,278.30 L485.00,299.00 M485.00,278.30 L466.30,299.00"/>
<circle class="fd" cx="475.65" cy="288.65" r="0.7"/>
<rect class="f2" x="470.60" y="97.20" width="19.40" height="12.20"/>
<rect class="f2" x="472.90" y="100.00" width="14.80" height="7.40" rx="1"/>
<path class="f2" d="M480.30,98.00 L480.30,101.60"/>
<rect class="f2" x="493.60" y="97.20" width="19.70" height="12.20"/>
<rect class="f2" x="495.90" y="100.00" width="15.10" height="7.40" rx="1"/>
<path class="f2" d="M503.45,98.00 L503.45,101.60"/>
<rect class="f" x="438.60" y="123.30" width="45.30" height="19.00"/>
<path class="f" d="M441.5,125.8 H476.5 A5.5,7.6 0 0 1 476.5,141 H441.5 A1.8,1.8 0 0 1 439.7,139.2 V127.6 A1.8,1.8 0 0 1 441.5,125.8 Z"/>
<circle class="f" cx="442.30" cy="133.70" r="0.5"/>
<ellipse class="f" cx="500.6" cy="128.8" rx="5" ry="6.6"/>
<rect class="f" x="494.30" y="135.20" width="12.70" height="7.40" rx="1.5"/>
<rect class="f2" x="465.20" y="253.60" width="10.60" height="17.80"/>
<rect class="f2" x="466.60" y="256.00" width="7.80" height="13.40" rx="1"/>
<path class="f2" d="M465.80,262.50 L468.60,262.50"/>
<rect class="f2" x="411.40" y="290.20" width="19.80" height="11.60"/>
<rect class="f2" x="413.40" y="292.60" width="15.80" height="7.60" rx="0.6"/>
<path class="f2" d="M421.40,290.40 L421.40,294.00"/>
<ellipse class="f" cx="445.5" cy="319.8" rx="6.4" ry="5"/>
<rect class="f" x="452.00" y="314.00" width="7.60" height="11.60" rx="1.5"/>
<ellipse class="f" cx="477.6" cy="319.8" rx="6.4" ry="5"/>
<rect class="f" x="463.40" y="314.00" width="7.60" height="11.60" rx="1.5"/>
<circle class="f" cx="498" cy="311.8" r="16.5" stroke-dasharray="2.2 1.2"/>
<path class="f" d="M483.30,304.60 L513.00,318.40"/>
<path class="f" d="M486.6,304.6 L483.3,304.6 L485.4,307.2 M509.6,318.5 L513,318.4 L511,315.8"/>
<text class="tx" transform="translate(501.20 306.30) rotate(25) scale(0.1)" font-size="63" text-anchor="middle" dominant-baseline="central">ø1300</text>
<circle class="tg" cx="299.20" cy="119.00" r="3.8"/>
<text class="tt" transform="translate(299.20 119.10) scale(0.1)" font-size="42" text-anchor="middle" dominant-baseline="central">4</text>
<path class="d2" d="M299.20,122.80 L299.20,146.00"/>
<text class="tt2" transform="translate(296.90 140.00) rotate(-90) scale(0.1)" font-size="36" text-anchor="middle" dominant-baseline="central">9</text>
<text class="tt2" transform="translate(301.60 139.60) rotate(-90) scale(0.1)" font-size="36" text-anchor="middle" dominant-baseline="central">21</text>
<path class="d2" d="M299.80,137.00 L302.80,137.00"/>
<circle class="tg" cx="407.20" cy="110.50" r="3.8"/>
<text class="tt" transform="translate(407.20 110.60) scale(0.1)" font-size="42" text-anchor="middle" dominant-baseline="central">4</text>
<path class="d2" d="M411.00,110.50 L435.50,110.50"/>
<text class="tt2" transform="translate(418.40 108.50) scale(0.1)" font-size="40" text-anchor="middle" dominant-baseline="central">9</text>
<text class="tt2" transform="translate(419.40 113.70) scale(0.1)" font-size="40" text-anchor="middle" dominant-baseline="central">21</text>
<circle class="tg" cx="384.30" cy="196.80" r="3.8"/>
<text class="tt" transform="translate(384.30 196.90) scale(0.1)" font-size="42" text-anchor="middle" dominant-baseline="central">4</text>
<path class="d2" d="M356.30,196.80 L380.50,196.80"/>
<text class="tt2" transform="translate(365.90 194.80) scale(0.1)" font-size="40" text-anchor="middle" dominant-baseline="central">9</text>
<text class="tt2" transform="translate(366.90 200.00) scale(0.1)" font-size="40" text-anchor="middle" dominant-baseline="central">21</text>
<circle class="tg" cx="417.70" cy="196.80" r="3.8"/>
<text class="tt" transform="translate(417.70 196.90) scale(0.1)" font-size="42" text-anchor="middle" dominant-baseline="central">6</text>
<path class="d2" d="M417.70,200.60 L417.70,214.70"/>
<text class="tt2" transform="translate(415.40 210.40) rotate(-90) scale(0.1)" font-size="36" text-anchor="middle" dominant-baseline="central">9</text>
<text class="tt2" transform="translate(420.10 210.00) rotate(-90) scale(0.1)" font-size="36" text-anchor="middle" dominant-baseline="central">21</text>
<path class="d2" d="M418.30,207.40 L421.30,207.40"/>
<circle class="tg" cx="296.40" cy="275.40" r="3.8"/>
<text class="tt" transform="translate(296.40 275.50) scale(0.1)" font-size="42" text-anchor="middle" dominant-baseline="central">4</text>
<path class="d2" d="M296.40,271.60 L296.40,247.20"/>
<text class="tt2" transform="translate(294.10 256.40) rotate(-90) scale(0.1)" font-size="36" text-anchor="middle" dominant-baseline="central">9</text>
<text class="tt2" transform="translate(298.80 256.00) rotate(-90) scale(0.1)" font-size="36" text-anchor="middle" dominant-baseline="central">21</text>
<path class="d2" d="M297.00,253.40 L300.00,253.40"/>
<circle class="tg" cx="384.20" cy="261.70" r="3.8"/>
<text class="tt" transform="translate(384.20 261.80) scale(0.1)" font-size="42" text-anchor="middle" dominant-baseline="central">6</text>
<path class="d2" d="M388.00,261.70 L407.20,261.70"/>
<text class="tt2" transform="translate(394.60 259.70) scale(0.1)" font-size="40" text-anchor="middle" dominant-baseline="central">9</text>
<text class="tt2" transform="translate(395.60 264.90) scale(0.1)" font-size="40" text-anchor="middle" dominant-baseline="central">21</text>
<circle class="tg" cx="381.40" cy="314.70" r="3.8"/>
<text class="tt" transform="translate(381.40 314.80) scale(0.1)" font-size="42" text-anchor="middle" dominant-baseline="central">4</text>
<path class="d2" d="M385.20,314.70 L407.20,314.70"/>
<text class="tt2" transform="translate(393.90 312.70) scale(0.1)" font-size="40" text-anchor="middle" dominant-baseline="central">9</text>
<text class="tt2" transform="translate(394.90 317.90) scale(0.1)" font-size="40" text-anchor="middle" dominant-baseline="central">21</text>
<circle class="tg" cx="497.30" cy="275.30" r="3.8"/>
<text class="tt" transform="translate(497.30 275.40) scale(0.1)" font-size="42" text-anchor="middle" dominant-baseline="central">6</text>
<path class="d2" d="M497.30,271.50 L497.30,247.40"/>
<text class="tt2" transform="translate(495.00 263.70) rotate(-90) scale(0.1)" font-size="36" text-anchor="middle" dominant-baseline="central">9</text>
<text class="tt2" transform="translate(499.70 263.30) rotate(-90) scale(0.1)" font-size="36" text-anchor="middle" dominant-baseline="central">21</text>
<path class="d2" d="M497.90,260.70 L500.90,260.70"/>
<path class="tg" d="M286.70,62.50 L288.85,59.10 L293.15,59.10 L295.30,62.50 L293.15,65.90 L288.85,65.90 Z"/>
<text class="tt" transform="translate(291.00 62.60) scale(0.1)" font-size="46" text-anchor="middle" dominant-baseline="central">VI</text>
<path class="d2" d="M291.00,66.00 L291.00,90.60"/>
<path class="d2" d="M289.40,78.80 L294.40,78.80"/>
<text class="tt2" transform="translate(288.70 75.60) rotate(-90) scale(0.1)" font-size="34" text-anchor="middle" dominant-baseline="central">12=17</text>
<text class="tt2" transform="translate(293.40 80.20) rotate(-90) scale(0.1)" font-size="34" text-anchor="middle" dominant-baseline="central">12</text>
<path class="tg" d="M392.70,62.60 L395.00,59.10 L399.60,59.10 L401.90,62.60 L399.60,66.10 L395.00,66.10 Z"/>
<text class="tt" transform="translate(397.30 62.70) scale(0.1)" font-size="43" text-anchor="middle" dominant-baseline="central">III</text>
<path class="d2" d="M397.30,66.20 L397.30,90.60"/>
<ellipse class="dot" cx="397.3" cy="85.9" rx="2" ry="1.3"/>
<text class="tt2" transform="translate(395.30 76.00) rotate(-90) scale(0.1)" font-size="35" text-anchor="middle" dominant-baseline="central">22=</text>
<text class="tt2" transform="translate(399.50 76.00) rotate(-90) scale(0.1)" font-size="35" text-anchor="middle" dominant-baseline="central">15=</text>
<path class="tg" d="M545.00,111.70 L547.15,108.30 L551.45,108.30 L553.60,111.70 L551.45,115.10 L547.15,115.10 Z"/>
<text class="tt" transform="translate(549.30 111.80) scale(0.1)" font-size="43" text-anchor="middle" dominant-baseline="central">VII</text>
<path class="d2" d="M521.10,111.70 L545.00,111.70"/>
<text class="tt2" transform="translate(533.20 109.70) scale(0.1)" font-size="40" text-anchor="middle" dominant-baseline="central">15</text>
<text class="tt2" transform="translate(534.20 114.90) scale(0.1)" font-size="40" text-anchor="middle" dominant-baseline="central">12</text>
<path class="tg" d="M545.10,136.90 L547.20,133.40 L551.40,133.40 L553.50,136.90 L551.40,140.40 L547.20,140.40 Z"/>
<text class="tt" transform="translate(549.30 137.00) scale(0.1)" font-size="48" text-anchor="middle" dominant-baseline="central">K</text>
<path class="d2" d="M549.30,140.50 L549.30,163.00"/>
<ellipse class="dot" cx="549.3" cy="162.8" rx="1.9" ry="1.3"/>
<text class="tt2" transform="translate(547.00 152.80) rotate(-90) scale(0.1)" font-size="36" text-anchor="middle" dominant-baseline="central">15</text>
<text class="tt2" transform="translate(551.70 152.40) rotate(-90) scale(0.1)" font-size="36" text-anchor="middle" dominant-baseline="central">21</text>
<path class="d2" d="M549.90,149.80 L552.90,149.80"/>
<path class="tg" d="M545.10,263.80 L547.20,260.30 L551.40,260.30 L553.50,263.80 L551.40,267.30 L547.20,267.30 Z"/>
<text class="tt" transform="translate(549.30 263.90) scale(0.1)" font-size="48" text-anchor="middle" dominant-baseline="central">K</text>
<path class="d2" d="M549.30,260.20 L549.30,237.60"/>
<ellipse class="dot" cx="549.3" cy="237.6" rx="1.9" ry="1.3"/>
<text class="tt2" transform="translate(547.00 250.40) rotate(-90) scale(0.1)" font-size="36" text-anchor="middle" dominant-baseline="central">15</text>
<text class="tt2" transform="translate(551.70 250.00) rotate(-90) scale(0.1)" font-size="36" text-anchor="middle" dominant-baseline="central">21</text>
<path class="d2" d="M549.90,247.40 L552.90,247.40"/>
<path class="tg" d="M599.60,183.20 L601.50,179.90 L605.30,179.90 L607.20,183.20 L605.30,186.50 L601.50,186.50 Z"/>
<text class="tt" transform="translate(603.40 183.30) scale(0.1)" font-size="48" text-anchor="middle" dominant-baseline="central">X</text>
<path class="d2" d="M575.00,183.20 L599.60,183.20"/>
<text class="tt2" transform="translate(586.20 181.20) scale(0.1)" font-size="40" text-anchor="middle" dominant-baseline="central">7</text>
<text class="tt2" transform="translate(587.20 186.40) scale(0.1)" font-size="40" text-anchor="middle" dominant-baseline="central">12</text>
<path class="tg" d="M599.60,201.00 L601.50,197.70 L605.30,197.70 L607.20,201.00 L605.30,204.30 L601.50,204.30 Z"/>
<text class="tt" transform="translate(603.40 201.10) scale(0.1)" font-size="48" text-anchor="middle" dominant-baseline="central">X</text>
<path class="d2" d="M575.00,201.00 L599.60,201.00"/>
<text class="tt2" transform="translate(586.20 199.00) scale(0.1)" font-size="40" text-anchor="middle" dominant-baseline="central">7</text>
<text class="tt2" transform="translate(587.20 204.20) scale(0.1)" font-size="40" text-anchor="middle" dominant-baseline="central">12</text>
<path class="tg" d="M599.60,219.40 L601.50,216.10 L605.30,216.10 L607.20,219.40 L605.30,222.70 L601.50,222.70 Z"/>
<text class="tt" transform="translate(603.40 219.50) scale(0.1)" font-size="48" text-anchor="middle" dominant-baseline="central">X</text>
<path class="d2" d="M575.00,219.40 L599.60,219.40"/>
<text class="tt2" transform="translate(586.20 217.40) scale(0.1)" font-size="40" text-anchor="middle" dominant-baseline="central">7</text>
<text class="tt2" transform="translate(587.20 222.60) scale(0.1)" font-size="40" text-anchor="middle" dominant-baseline="central">12</text>
<path class="tg" d="M205.20,200.40 L207.35,197.00 L211.65,197.00 L213.80,200.40 L211.65,203.80 L207.35,203.80 Z"/>
<text class="tt" transform="translate(209.50 200.50) scale(0.1)" font-size="43" text-anchor="middle" dominant-baseline="central">III</text>
<path class="d2" d="M213.80,200.40 L237.50,200.40"/>
<ellipse class="dot" cx="232.6" cy="200.4" rx="1.3" ry="1.9"/>
<text class="tt2" transform="translate(220.60 198.40) scale(0.1)" font-size="35" text-anchor="middle" dominant-baseline="central">22=</text>
<text class="tt2" transform="translate(220.60 202.60) scale(0.1)" font-size="35" text-anchor="middle" dominant-baseline="central">15=</text>
<path class="tg" d="M243.70,270.30 L245.85,266.90 L250.15,266.90 L252.30,270.30 L250.15,273.70 L245.85,273.70 Z"/>
<text class="tt" transform="translate(248.00 270.40) scale(0.1)" font-size="37" text-anchor="middle" dominant-baseline="central">VIII</text>
<path class="d2" d="M252.40,270.30 L276.00,270.30"/>
<text class="tt2" transform="translate(258.00 268.30) scale(0.1)" font-size="40" text-anchor="middle" dominant-baseline="central">6</text>
<text class="tt2" transform="translate(259.00 273.50) scale(0.1)" font-size="40" text-anchor="middle" dominant-baseline="central">12</text>
<path class="tg" d="M299.90,354.90 L302.10,351.50 L306.50,351.50 L308.70,354.90 L306.50,358.30 L302.10,358.30 Z"/>
<text class="tt" transform="translate(304.30 355.00) scale(0.1)" font-size="43" text-anchor="middle" dominant-baseline="central">VII</text>
<path class="d2" d="M304.30,335.90 L304.30,351.40"/>
<text class="tt2" transform="translate(302.10 346.80) rotate(-90) scale(0.1)" font-size="35" text-anchor="middle" dominant-baseline="central">15</text>
<text class="tt2" transform="translate(306.60 346.80) rotate(-90) scale(0.1)" font-size="35" text-anchor="middle" dominant-baseline="central">12</text>
<path class="tg" d="M356.90,354.90 L359.10,351.50 L363.50,351.50 L365.70,354.90 L363.50,358.30 L359.10,358.30 Z"/>
<text class="tt" transform="translate(361.30 355.00) scale(0.1)" font-size="43" text-anchor="middle" dominant-baseline="central">VII</text>
<path class="d2" d="M361.30,335.90 L361.30,351.40"/>
<text class="tt2" transform="translate(359.10 346.80) rotate(-90) scale(0.1)" font-size="35" text-anchor="middle" dominant-baseline="central">15</text>
<text class="tt2" transform="translate(363.60 346.80) rotate(-90) scale(0.1)" font-size="35" text-anchor="middle" dominant-baseline="central">12</text>
<path class="tg" d="M431.40,354.90 L433.60,351.50 L438.00,351.50 L440.20,354.90 L438.00,358.30 L433.60,358.30 Z"/>
<text class="tt" transform="translate(435.80 355.00) scale(0.1)" font-size="43" text-anchor="middle" dominant-baseline="central">VII</text>
<path class="d2" d="M435.80,335.90 L435.80,351.40"/>
<text class="tt2" transform="translate(433.60 346.80) rotate(-90) scale(0.1)" font-size="35" text-anchor="middle" dominant-baseline="central">15</text>
<text class="tt2" transform="translate(438.10 346.80) rotate(-90) scale(0.1)" font-size="35" text-anchor="middle" dominant-baseline="central">12</text>
<path class="tg" d="M482.50,354.90 L484.70,351.50 L489.10,351.50 L491.30,354.90 L489.10,358.30 L484.70,358.30 Z"/>
<text class="tt" transform="translate(486.90 355.00) scale(0.1)" font-size="43" text-anchor="middle" dominant-baseline="central">VII</text>
<path class="d2" d="M486.90,335.90 L486.90,351.40"/>
<text class="tt2" transform="translate(484.70 346.80) rotate(-90) scale(0.1)" font-size="35" text-anchor="middle" dominant-baseline="central">15</text>
<text class="tt2" transform="translate(489.20 346.80) rotate(-90) scale(0.1)" font-size="35" text-anchor="middle" dominant-baseline="central">12</text>
<text class="rl" transform="translate(350.20 124.60) scale(0.1)" font-size="41" text-anchor="middle" dominant-baseline="central">Room</text>
<text class="rl" transform="translate(350.20 132.00) scale(0.1)" font-size="41" text-anchor="middle" dominant-baseline="central">14.95 m²</text>
<text class="rl" transform="translate(465.60 117.80) scale(0.1)" font-size="41" text-anchor="middle" dominant-baseline="central">Bad</text>
<text class="rl" transform="translate(465.60 125.20) scale(0.1)" font-size="41" text-anchor="middle" dominant-baseline="central">5.52 m²</text>
<text class="rl" transform="translate(336.30 208.80) scale(0.1)" font-size="41" text-anchor="middle" dominant-baseline="central">Hall</text>
<text class="rl" transform="translate(336.30 216.20) scale(0.1)" font-size="41" text-anchor="middle" dominant-baseline="central">7.02 m²</text>
<text class="rl" transform="translate(483.00 212.60) scale(0.1)" font-size="41" text-anchor="middle" dominant-baseline="central">Room</text>
<text class="rl" transform="translate(483.00 220.00) scale(0.1)" font-size="41" text-anchor="middle" dominant-baseline="central">15.92 m²</text>
<text class="rl" transform="translate(400.00 227.60) scale(0.1)" font-size="41" text-anchor="middle" dominant-baseline="central">Closet</text>
<text class="rl" transform="translate(400.00 235.00) scale(0.1)" font-size="41" text-anchor="middle" dominant-baseline="central">3.37 m²</text>
<text class="rl" transform="translate(428.00 257.60) scale(0.1)" font-size="41" text-anchor="middle" dominant-baseline="central">Closet</text>
<text class="rl" transform="translate(428.00 265.00) scale(0.1)" font-size="41" text-anchor="middle" dominant-baseline="central">2.36 m²</text>
<text class="rl" transform="translate(313.00 299.00) scale(0.1)" font-size="41" text-anchor="middle" dominant-baseline="central">Room</text>
<text class="rl" transform="translate(313.00 306.40) scale(0.1)" font-size="41" text-anchor="middle" dominant-baseline="central">15.32 m²</text>
<text class="rl" transform="translate(435.60 309.70) scale(0.1)" font-size="41" text-anchor="middle" dominant-baseline="central">Bad</text>
<text class="rl" transform="translate(435.60 317.10) scale(0.1)" font-size="41" text-anchor="middle" dominant-baseline="central">3.61 m²</text>
<text class="rl" transform="translate(499.70 283.70) scale(0.1)" font-size="41" text-anchor="middle" dominant-baseline="central">Bad</text>
<text class="rl" transform="translate(499.70 291.10) scale(0.1)" font-size="41" text-anchor="middle" dominant-baseline="central">6.46 m²</text>
</g>
</svg>
</body></html>
